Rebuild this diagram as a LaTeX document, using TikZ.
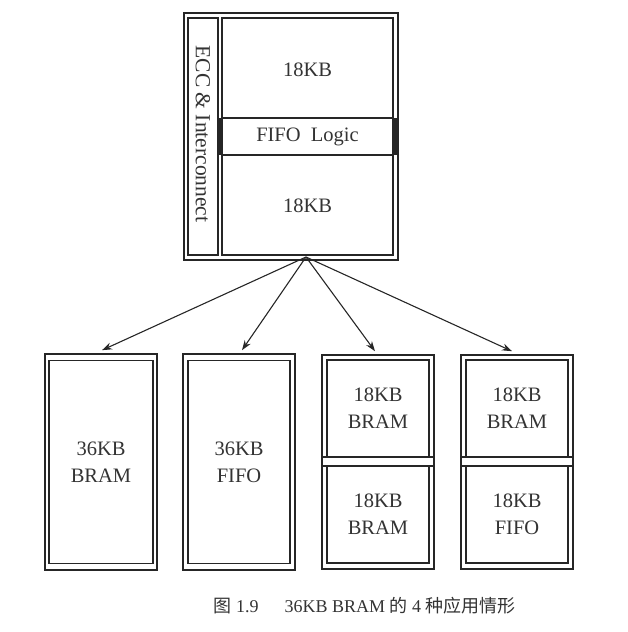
\documentclass[tikz,border=0pt]{standalone}
\usepackage{fontspec}
\setmainfont{Liberation Serif}
\newfontfamily\cjk{Noto Sans CJK SC}
\usetikzlibrary{arrows.meta}
\begin{document}
\begin{tikzpicture}[x=1pt,y=-1pt,
  frame/.style={draw=black!85, line width=1.6pt, inner sep=0pt},
  lbl/.style={font=\fontsize{20.5}{27}\selectfont, text=black!80, align=center},
  arr/.style={draw=black!85, line width=1.1pt, -{Stealth[length=10pt,width=7pt]}}]
\useasboundingbox (0,0) rectangle (628,632);
% top block
\node[frame, minimum width=214pt, minimum height=247pt] (top) at (291,136.5) {};
\node[frame, minimum width=30pt, minimum height=237pt] (ecc) at (203,136.5) {};
\node[frame, minimum width=171pt, minimum height=237pt] (main) at (307.5,136.5) {};
\fill[black!85] (218,118) rectangle (222,155);
\fill[black!85] (393,118) rectangle (397.5,155);
\node[frame, minimum width=171pt, minimum height=37pt, fill=white] (fifo) at (307.5,136.5) {};
\node[font=\fontsize{21.5}{27}\selectfont, text=black!80, rotate=-90] (ecct) at (203,134) {ECC \& Interconnect};
\node[lbl] (t18a) at (307.5,70) {18KB};
\node[lbl] (fifot) at (fifo.center) {FIFO\ \ Logic};
\node[lbl] (t18b) at (307.5,206) {18KB};
\coordinate (src) at (306,257);
% box 1
\node[frame, minimum width=112pt, minimum height=216pt] (b1) at (101,462) {};
\node[frame, minimum width=104pt, minimum height=203pt, lbl] (b1i) at (101,462) {36KB\\BRAM};
% box 2
\node[frame, minimum width=112pt, minimum height=216pt] (b2) at (239,462) {};
\node[frame, minimum width=102pt, minimum height=203pt, lbl] (b2i) at (239,462) {36KB\\FIFO};
% box 3
\node[frame, minimum width=112pt, minimum height=214pt] (b3) at (378,462) {};
\node[frame, minimum width=102pt, minimum height=97pt, lbl] (b3a) at (378,408.5) {18KB\\BRAM};
\node[frame, minimum width=102pt, minimum height=97pt, lbl] (b3b) at (378,514.5) {18KB\\BRAM};
\node[frame, minimum width=112pt, minimum height=9pt] (b3m) at (378,461.5) {};
% box 4
\node[frame, minimum width=112pt, minimum height=214pt] (b4) at (517,462) {};
\node[frame, minimum width=102pt, minimum height=97pt, lbl] (b4a) at (517,408.5) {18KB\\BRAM};
\node[frame, minimum width=102pt, minimum height=97pt, lbl] (b4b) at (517,514.5) {18KB\\FIFO};
\node[frame, minimum width=112pt, minimum height=9pt] (b4m) at (517,461.5) {};
% arrows
\draw[arr] (src) -- ([xshift=1pt,yshift=3pt]b1.north);
\draw[arr] (src) -- ([xshift=3pt,yshift=3pt]b2.north);
\draw[arr] (src) -- ([xshift=-3pt,yshift=3pt]b3.north);
\draw[arr] (src) -- ([xshift=-5pt,yshift=3pt]b4.north);
% caption
\node[font=\fontsize{18}{22}\selectfont, text=black!80, anchor=west] (cap) at (210,606)
  {{\cjk 图}\ 1.9\hspace{26pt}36KB BRAM {\cjk 的} 4 {\cjk 种应用情形}};
\end{tikzpicture}
\end{document}
